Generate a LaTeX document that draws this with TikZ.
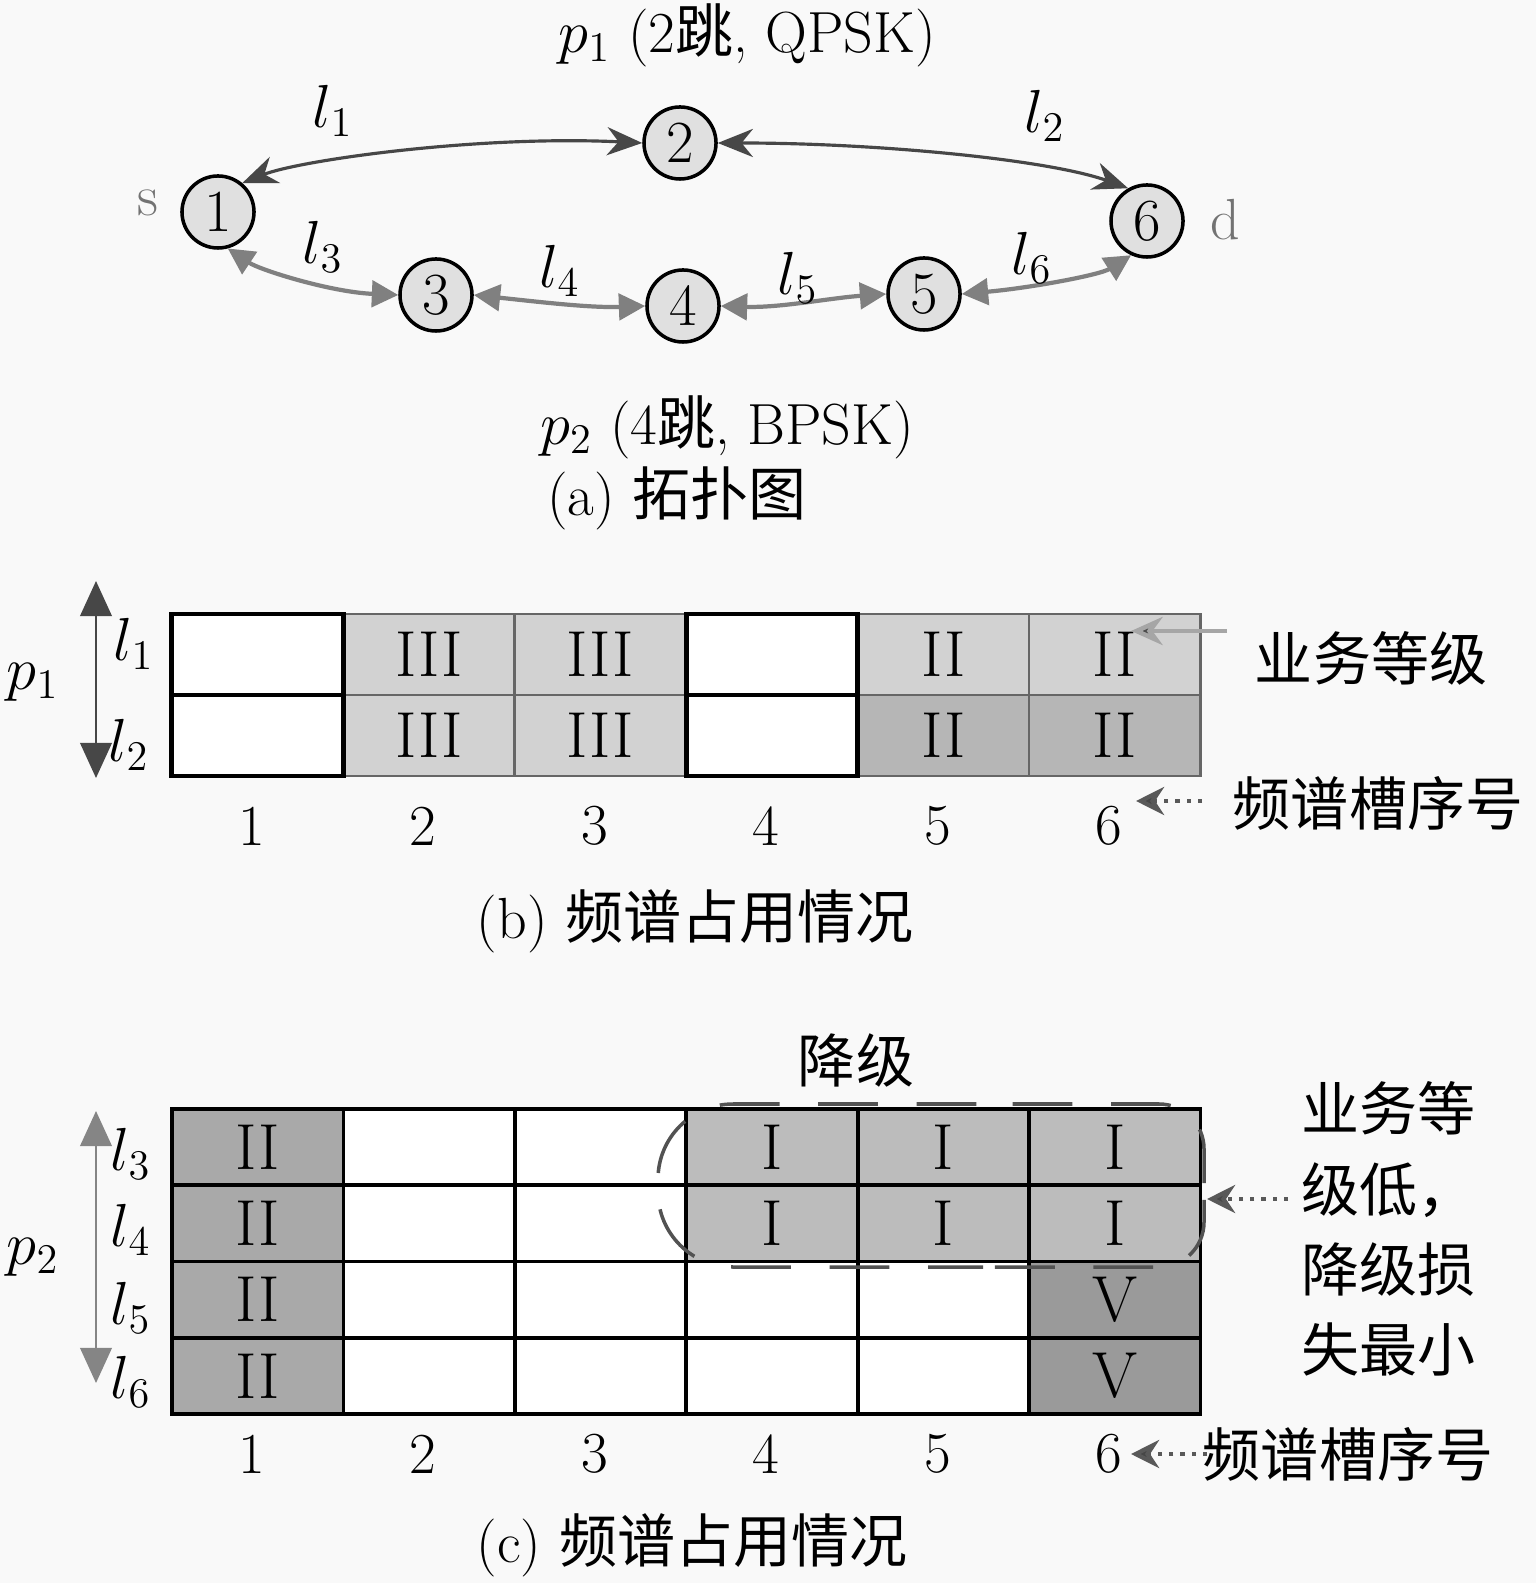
\documentclass[tikz,border=0pt]{standalone}
\usepackage{fontspec}
\newfontfamily\cjk{Noto Sans CJK SC}
\usetikzlibrary{arrows.meta}
\definecolor{bg}{RGB}{249,249,249}
\definecolor{cIII}{RGB}{210,210,210}
\definecolor{cIIb}{RGB}{182,182,182}
\definecolor{cII}{RGB}{169,169,169}
\definecolor{cI}{RGB}{188,188,188}
\definecolor{cV}{RGB}{154,154,154}
\begin{document}
\begin{tikzpicture}[x=0.01cm,y=-0.01cm,
  every node/.style={font=\fontsize{16.5}{19}\selectfont},
  gnode/.style={circle, draw=black, line width=1pt, fill=black!12, minimum size=0.72cm, inner sep=0pt, font=\fontsize{17}{20}\selectfont},
  darkedge/.style={draw=black!72, line width=0.9pt, {Stealth[length=10pt,width=8pt]}-{Stealth[length=10pt,width=8pt]}},
  lightedge/.style={draw=black!50, line width=1.2pt, {Triangle[length=7.5pt,width=7.5pt]}-{Triangle[length=7.5pt,width=7.5pt]}},
  cellb/.style={draw=black!60, line width=0.8pt, minimum width=1.714cm, minimum height=0.81cm, inner sep=0pt, font=\fontsize{18.5}{20}\selectfont},
  cellbw/.style={cellb, draw=black, line width=1.4pt, fill=white},
  cellc/.style={draw=black, line width=1.1pt, minimum width=1.714cm, minimum height=0.7625cm, inner sep=0pt, fill=white, font=\fontsize{18.5}{20}\selectfont},
  sidearrow/.style={draw=black!72, line width=0.6pt, {Triangle[length=10pt,width=9pt]}-{Triangle[length=10pt,width=9pt]}},
  dotarrow/.style={draw=black!65, line width=1.2pt, dotted, -{Stealth[length=8pt,width=8pt,fill=black!72]}},
  dashbox/.style={draw=black!68, line width=1pt, dash pattern=on 17pt off 11pt},
  graytxt/.style={text=black!55}
]
\fill[bg] (0,0) rectangle (1536,1583);
\useasboundingbox (0,0) rectangle (1536,1583);

% ---------- (a) topology ----------
\node (t1) at (747,35) {$p_1$ (2{\cjk 跳}, QPSK)};
\node[gnode] (n1) at (218,212) {1};
\node[gnode] (n2) at (680,143) {2};
\node[gnode] (n3) at (436,295) {3};
\node[gnode] (n4) at (683,306) {4};
\node[gnode] (n5) at (924,294) {5};
\node[gnode] (n6) at (1147,221) {6};
\draw[darkedge] (n1.50) .. controls (300,160) and (480,135) .. (n2.west);
\draw[darkedge] (n2.east) .. controls (880,143) and (1050,160) .. (n6.120);
\draw[lightedge] (n1.285) .. controls (260,270) and (330,292) .. (n3.west);
\draw[lightedge] (n3.east) .. controls (540,302) and (590,308) .. (n4.west);
\draw[lightedge] (n4.east) .. controls (780,308) and (830,298) .. (n5.west);
\draw[lightedge] (n5.east) .. controls (1030,288) and (1100,275) .. (n6.245);
\node (la1) at (333,111) {$l_1$};
\node (la2) at (1045,116) {$l_2$};
\node (la3) at (323,247) {$l_3$};
\node (la4) at (560,271) {$l_4$};
\node (la5) at (798,278) {$l_5$};
\node (la6) at (1032,258) {$l_6$};
\node[graytxt] (ls) at (148,203) {s};
\node[graytxt] (ld) at (1225,220) {d};
\node (t2) at (727,427) {$p_2$ (4{\cjk 跳}, BPSK)};
\node (capa) at (677,498) {(a) {\cjk 拓扑图}};

% ---------- (b) spectrum ----------
\foreach \i/\txt in {2/III,3/III,5/II,6/II}{
  \pgfmathsetmacro\cx{172+171.4*(\i-0.5)}
  \node[cellb, fill=cIII] (b1\i) at (\cx,654.5) {\txt};
}
\foreach \i/\txt/\col in {2/III/cIII,3/III/cIII,5/II/cIIb,6/II/cIIb}{
  \pgfmathsetmacro\cx{172+171.4*(\i-0.5)}
  \node[cellb, fill=\col] (b2\i) at (\cx,735.5) {\txt};
}
\foreach \i in {1,4}{
  \pgfmathsetmacro\cx{172+171.4*(\i-0.5)}
  \node[cellbw] (b1\i) at (\cx,654.5) {};
  \node[cellbw] (b2\i) at (\cx,735.5) {};
}
\foreach \i in {1,...,6}{
  \pgfmathsetmacro\cx{172+171.4*(\i-0.5)-6}
  \node (bn\i) at (\cx,826) {\i};
}
\coordinate (bat) at (96,581);
\coordinate (bab) at (96,778);
\draw[sidearrow] (bat) -- (bab);
\node (bp1) at (33,682) {$p_1$};
\node (bl1) at (134,644) {$l_1$};
\node (bl2) at (129,745) {$l_2$};
\node (blev) at (1371,658) {\cjk 业务等级};
\coordinate (blevs) at (1227,631);
\coordinate (bleve) at (1131,631);
\draw[draw=black!35, line width=1.3pt, -{Stealth[length=9pt,width=8pt,fill=black!70]}] (blevs) -- (bleve);
\node (bslot) at (1378,803) {\cjk 频谱槽序号};
\coordinate (bslots) at (1202,801);
\coordinate (bslote) at (1136,801);
\draw[dotarrow] (bslots) -- (bslote);
\node (capb) at (695,921) {(b) {\cjk 频谱占用情况}};

% ---------- (c) spectrum ----------
\foreach \r/\cy in {1/1147.1,2/1223.4,3/1299.6,4/1375.9}{
  \foreach \i in {1,...,6}{
    \pgfmathsetmacro\cx{172+171.4*(\i-0.5)}
    \node[cellc] (c\r\i) at (\cx,\cy) {};
  }
}
\foreach \r in {1,...,4}{ \node[cellc, fill=cII] at (c\r1) {II}; }
\foreach \r in {1,2}{ \foreach \i in {4,5,6}{ \node[cellc, fill=cI] at (c\r\i) {I}; } }
\foreach \r in {3,4}{ \node[cellc, fill=cV] at (c\r6) {V}; }
\foreach \i in {1,...,6}{
  \pgfmathsetmacro\cx{172+171.4*(\i-0.5)-6}
  \node (cn\i) at (\cx,1454) {\i};
}
% dashed outline round the degraded slots
\draw[dashbox, dash phase=26pt, rounded corners=0.75cm] (658,1180) -- (658,1104) -- (983,1104);
\draw[dashbox, dash phase=19.6pt, rounded corners=0.45cm] (983,1104) -- (1204,1104) -- (1204,1183);
\draw[dashbox, dash phase=23pt, rounded corners=0.75cm] (658,1192) -- (658,1267) -- (983,1267);
\draw[dashbox, dash phase=24.6pt, rounded corners=0.45cm] (983,1267) -- (1204,1267) -- (1204,1190);
\node (cdown) at (856,1060) {\cjk 降级};
\coordinate (cat) at (96,1111);
\coordinate (cab) at (96,1383);
\draw[sidearrow, draw=black!48] (cat) -- (cab);
\node (cp2) at (33,1257) {$p_2$};
\node (cl3) at (131,1154) {$l_3$};
\node (cl4) at (131,1230) {$l_4$};
\node (cl5) at (131,1308) {$l_5$};
\node (cl6) at (131,1382) {$l_6$};
\node[align=left, anchor=west, font=\fontsize{16.5}{22.8}\selectfont\cjk] (cnote) at (1289,1229) {业务等\\级低，\\降级损\\失最小};
\coordinate (cnotes) at (1288,1199);
\coordinate (cnotee) at (1207,1199);
\draw[dotarrow] (cnotes) -- (cnotee);
\node (cslot) at (1348,1454) {\cjk 频谱槽序号};
\coordinate (cslots) at (1207,1454);
\coordinate (cslote) at (1131,1454);
\draw[dotarrow] (cslots) -- (cslote);
\node (capc) at (692,1545) {(c) {\cjk 频谱占用情况}};
\end{tikzpicture}
\end{document}
